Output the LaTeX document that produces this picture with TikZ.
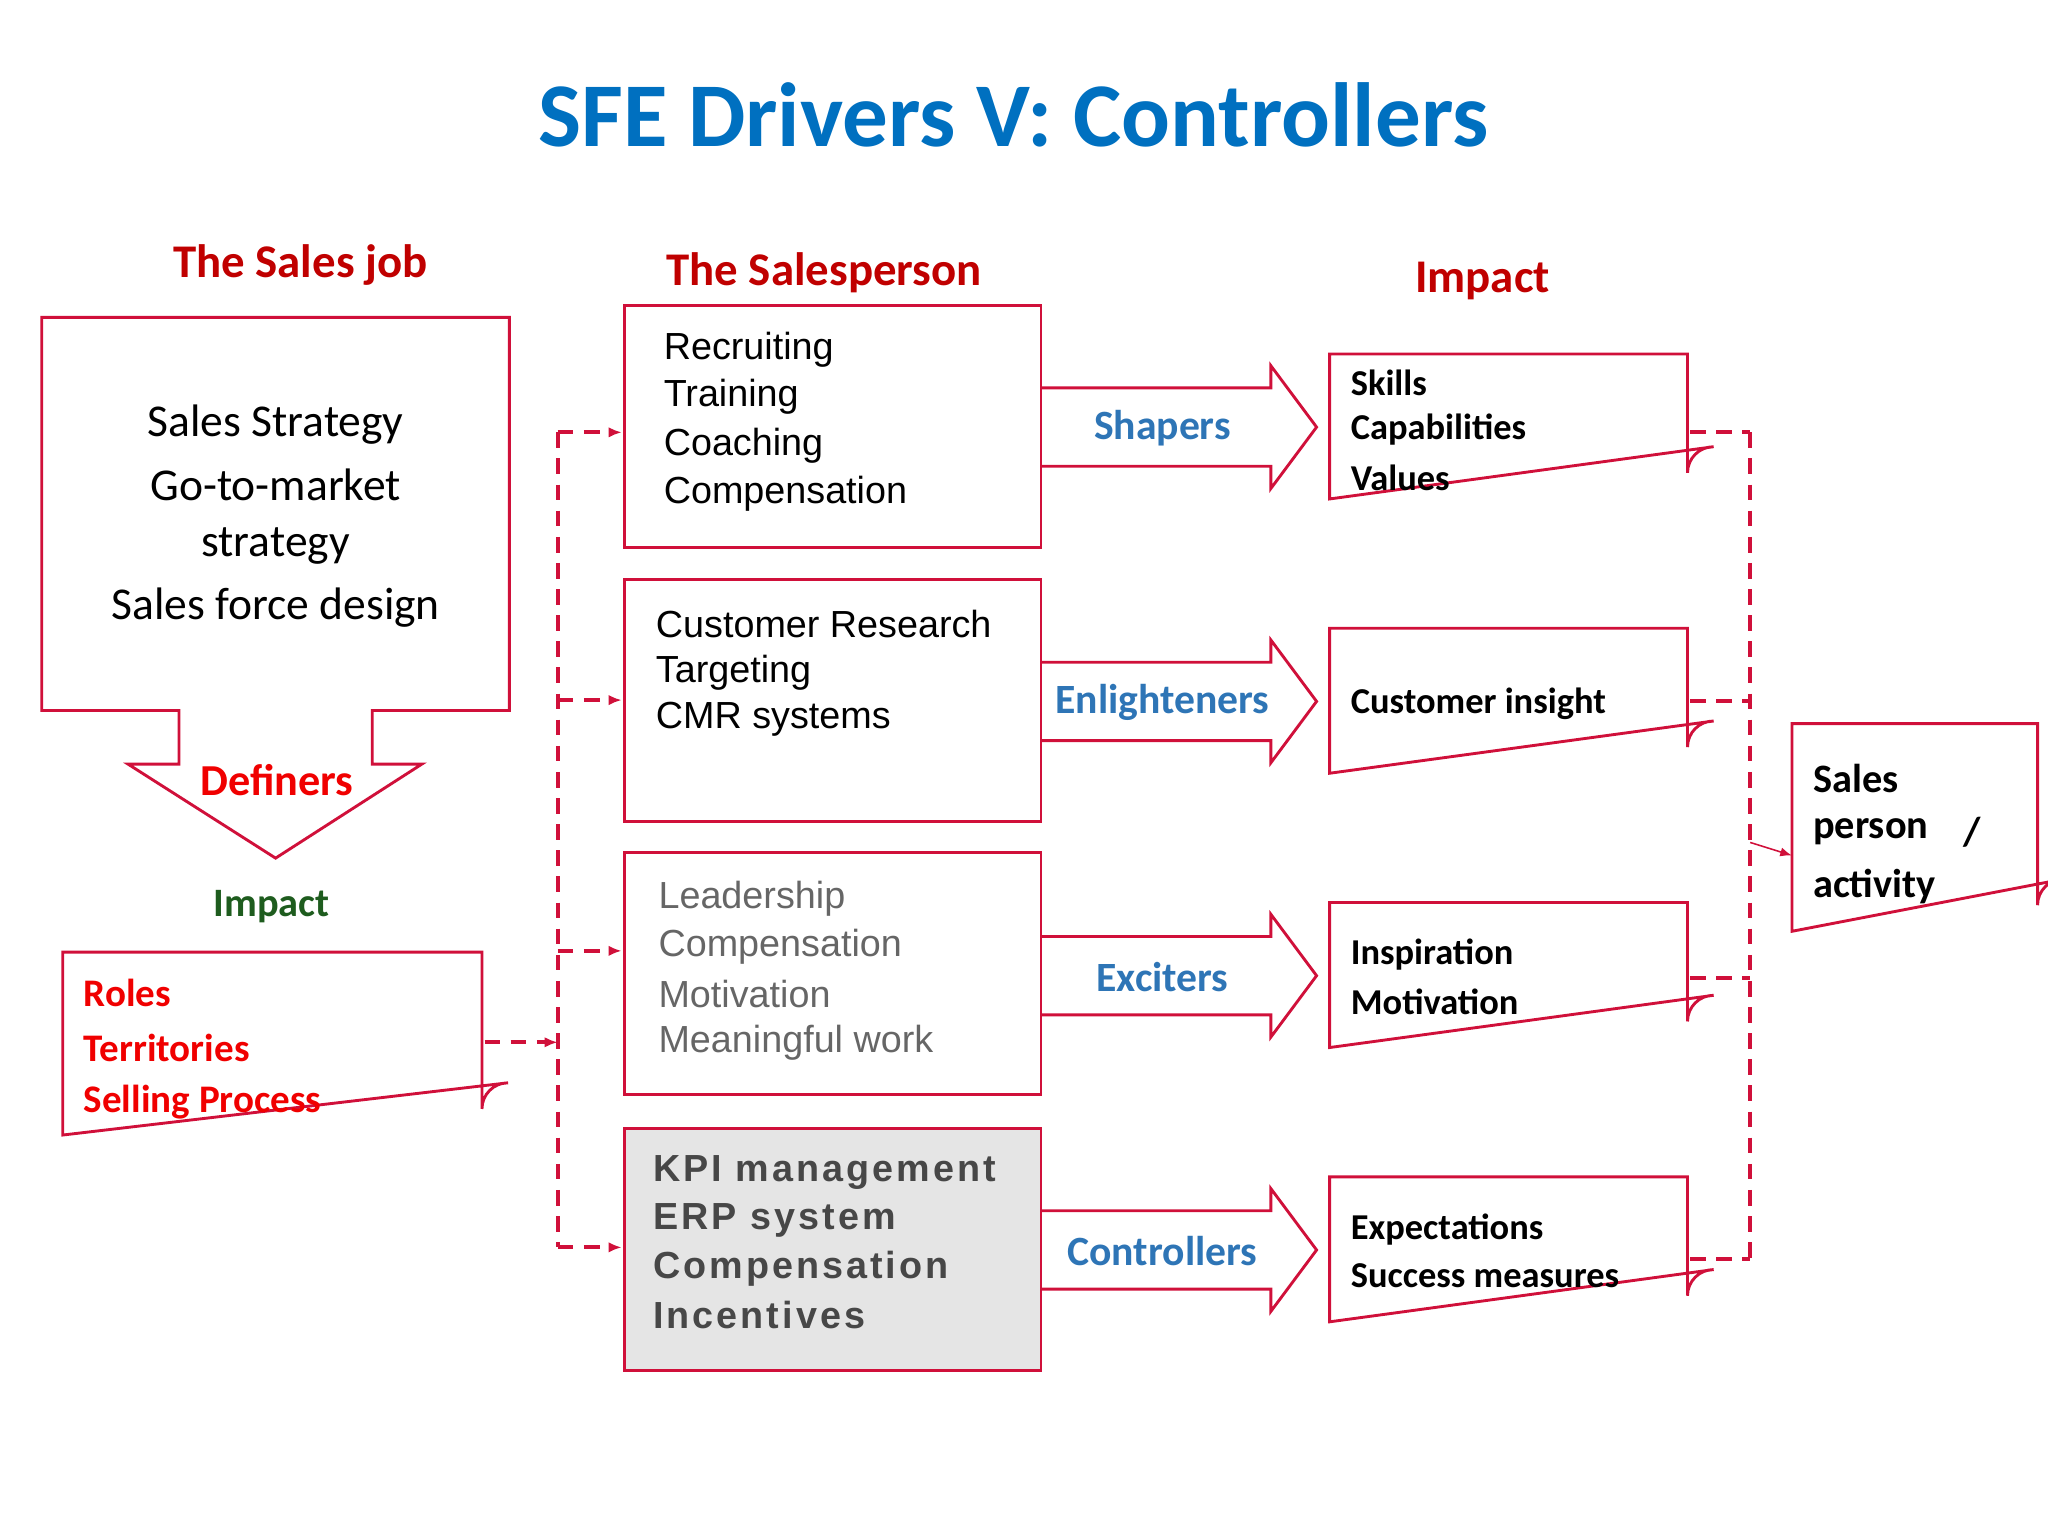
\documentclass[tikz,border=0pt]{standalone}
\usepackage{fontspec}
\usetikzlibrary{arrows.meta}
\setmainfont{Carlito}
\newfontfamily\arl{Liberation Sans}
\newfontfamily\kpi{Liberation Sans}[LetterSpace=8]
\begin{document}
\definecolor{tblue}{HTML}{0070C0}
\definecolor{lblue}{HTML}{2E75B6}
\definecolor{hred}{HTML}{C00000}
\definecolor{bred}{HTML}{D0103A}
\definecolor{rred}{HTML}{F00000}
\definecolor{ggreen}{HTML}{1E5C1E}
\begin{tikzpicture}[x=1bp,y=-1bp,
  box/.style={draw=bred,line width=2.2bp},
  rdash/.style={draw=bred,line width=3bp,dash pattern=on 12bp off 8bp},
  tip/.style={-{Latex[length=10bp,width=8bp]}},
  head/.style={font=\fontsize{36}{40}\selectfont\bfseries,text=hred},
  lab/.style={font=\fontsize{32}{36}\selectfont\bfseries,text=lblue},
  imp/.style={font=\fontsize{28}{36}\selectfont\bfseries,anchor=west,inner sep=0}]
\useasboundingbox (0,0) rectangle (1568,1176);
\node[font=\fontsize{70}{80}\selectfont\bfseries,text=tblue] (title) at (776,88) {SFE Drivers V: Controllers};
\node[head] (h1) at (230,203) {The Sales job};
\node[head] (h2) at (631,209) {The Salesperson};
\node[head] (h3) at (1135,215) {Impact};
% big down arrow
\draw[box] (32,243) -- (390,243) -- (390,544) -- (285,544) -- (285,585) -- (323,585) -- (211,657) -- (98,585) -- (137,585) -- (137,544) -- (32,544) -- cycle;
\foreach \t/\y [count=\i] in {Sales Strategy/325,Go-to-market/371,strategy/418,Sales force design/465}
  \node[font=\fontsize{35}{40}\selectfont] (s\i) at (211,\y) {\t};
\node[font=\fontsize{34}{40}\selectfont\bfseries,text=rred] (def) at (212,597) {Definers};
\node[font=\fontsize{31}{36}\selectfont\bfseries,text=ggreen] (imp0) at (208,694) {Impact};
% roles box
\draw[box] (48,729) -- (369,729) -- (369,849) arc (0:90:-20) -- (48,869) -- cycle;
\foreach \t/\y [count=\i] in {Roles/760,Territories/802,Selling Process/844}
  \node[font=\fontsize{30}{36}\selectfont\bfseries,text=rred,anchor=west,inner sep=0] (r\i) at (64,\y) {\t};
\coordinate (ra) at (371,798); \coordinate (rb) at (427,798);
\draw[rdash,tip] (ra) -- (rb);
% vertical dashed
\coordinate (v1) at (427,331); \coordinate (v4) at (427,955);
\draw[rdash] (v1) -- (v4);
\foreach \y [count=\i] in {331,536,728,955}{
  \coordinate (va\i) at (427,\y); \coordinate (vb\i) at (476,\y);
  \draw[rdash,tip] (va\i) -- (vb\i);}
% column boxes and arrows
\fill[black!10] (478,864) rectangle (797,1048);
\foreach \t/\c/\l in {234/327/Shapers,444/537/Enlighteners,653/747/Exciters,864/957/Controllers}{
  \draw[box] (797,\c-30) -- (973,\c-30) -- (973,\c-47) -- (1008,\c) -- (973,\c+47) -- (973,\c+30) -- (797,\c+30);
  \draw[box] (478,\t) rectangle (797,\t+185);
  \node[lab] at (890,\c+1) {\l};
}
\foreach \t/\y in {Recruiting/268,Training/304,Coaching/341,Compensation/378}
  \node[font=\arl\fontsize{29}{36}\selectfont,anchor=west,inner sep=0] at (508,\y) {\t};
\foreach \t/\y in {Customer Research/478,Targeting/515,CMR systems/551}
  \node[font=\arl\fontsize{29}{36}\selectfont,anchor=west,inner sep=0] at (502,\y) {\t};
\foreach \t/\y in {Leadership/688,Compensation/725,Motivation/761,Meaningful work/798}
  \node[font=\arl\fontsize{29}{36}\selectfont,text=black!60,anchor=west,inner sep=0] at (504,\y) {\t};
\foreach \t/\y in {KPI management/898,ERP system/934,Compensation/971,Incentives/1007}
  \node[font=\kpi\fontsize{29}{36}\selectfont\bfseries,text=black!72,anchor=west,inner sep=0] at (500,\y) {\t};
% impact boxes
\foreach \t/\d [count=\i] in {271/331,481/537,691/749,901/964}{
  \draw[box] (1018,\t) -- (1292,\t) -- (1292,\t+91) arc (0:90:-20) -- (1018,\t+111) -- cycle;
  \coordinate (ia\i) at (1294,\d); \coordinate (ib\i) at (1340,\d);
  \draw[rdash] (ia\i) -- (ib\i);}
\foreach \t/\y in {Skills/293,Capabilities/329,Values/366,Customer insight/539,Inspiration/731,Motivation/767,Expectations/941,Success measures/977}
  \node[imp] at (1034,\y) {\t};
\draw[rdash] (ib1) -- (ib4);
% sales box
\draw[box] (1372,554) -- (1560,554) -- (1560,693) arc (0:90:-20) -- (1372,713) -- cycle;
\coordinate (sa) at (1340,645); \coordinate (sb) at (1372,655);
\draw[draw=bred,line width=1.2bp,-{Latex[length=9bp,width=7bp]}] (sa) -- (sb);
\foreach \t/\y in {Sales/596,person/637,activity/679}
  \node[font=\fontsize{31}{36}\selectfont\bfseries,anchor=west,inner sep=0] at (1388,\y) {\t};
\node[font=\fontsize{31}{36}\selectfont\bfseries] (slash) at (1510,637) {/};
\end{tikzpicture}
\end{document}
